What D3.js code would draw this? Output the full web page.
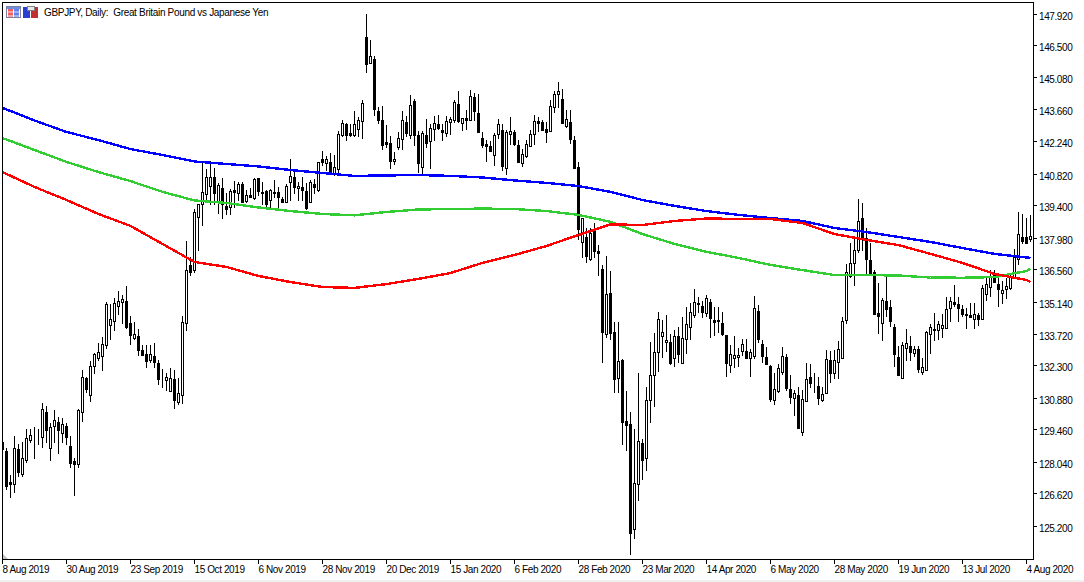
<!DOCTYPE html>
<html><head><meta charset="utf-8">
<script src="https://cdn.jsdelivr.net/npm/d3@7"></script>
<style>html,body{margin:0;padding:0;background:#fff;overflow:hidden}svg{display:block}
text{font-family:"Liberation Sans",Arial,sans-serif;font-size:10px;fill:#000}</style></head><body>
<svg id="c" width="1084" height="582"></svg>
<script>
const title = "GBPJPY, Daily:  Great Britain Pound vs Japanese Yen";
const priceTicks = [147.92,146.5,145.08,143.66,142.24,140.82,139.4,137.98,136.56,135.14,133.72,132.3,130.88,129.46,128.04,126.62,125.2];
const dateLabels = ["8 Aug 2019","30 Aug 2019","23 Sep 2019","15 Oct 2019","6 Nov 2019","28 Nov 2019","20 Dec 2019","15 Jan 2020","6 Feb 2020","28 Feb 2020","23 Mar 2020","14 Apr 2020","6 May 2020","28 May 2020","19 Jun 2020","13 Jul 2020","4 Aug 2020"];
const opens = [128.97,128.58,127.19,127.10,128.66,127.55,128.17,129.06,129.28,129.19,129.19,130.30,128.71,129.68,129.86,129.37,129.68,128.79,128.13,128.00,
130.30,131.81,131.06,132.34,132.70,132.79,133.28,134.17,134.35,135.00,135.18,135.23,134.26,133.59,133.68,133.05,132.88,132.61,132.79,132.48,
131.81,131.72,131.24,131.77,130.75,131.06,134.26,136.83,136.60,138.96,139.53,139.97,140.33,140.73,139.62,140.24,139.44,139.40,140.15,140.02,
140.42,139.67,139.93,139.80,140.69,140.06,140.11,139.71,140.06,140.06,139.75,139.62,140.51,140.73,140.24,140.29,140.11,139.62,140.42,140.15,
141.53,141.36,141.40,140.91,141.09,142.60,143.09,142.69,142.60,142.86,143.22,146.95,145.79,145.97,143.66,143.26,142.28,142.24,141.44,142.06,
142.42,143.17,142.60,144.11,142.60,141.18,142.60,142.33,142.86,143.09,142.82,142.69,143.17,143.26,143.97,143.13,143.35,143.26,144.28,143.57,
142.47,142.19,142.10,141.71,142.64,142.82,141.14,142.64,142.73,142.15,141.36,141.66,142.10,142.64,143.22,143.17,142.86,142.78,143.84,144.41,
144.19,143.00,143.17,142.37,141.18,137.85,138.07,137.09,138.38,137.45,136.65,133.76,135.59,133.85,131.82,132.61,129.91,129.77,125.11,127.10,
128.93,128.27,130.84,131.95,132.96,133.67,133.41,133.41,132.70,133.67,132.48,133.54,134.08,134.61,135.14,135.00,134.70,135.18,134.39,134.39,
134.26,133.72,132.39,132.70,132.75,133.01,133.01,132.70,132.79,134.79,133.32,132.75,132.34,130.84,131.24,132.08,132.75,131.32,130.93,131.06,
129.41,130.80,131.86,131.50,131.45,130.84,131.15,132.61,132.04,132.52,132.70,134.39,136.33,136.92,137.49,138.91,138.03,137.05,136.51,134.70,
134.26,135.23,134.97,134.08,132.75,131.82,133.14,133.23,132.92,133.10,132.08,132.17,133.76,133.94,133.94,134.03,134.03,134.92,135.18,135.09,
134.87,134.65,134.61,134.43,134.61,134.43,135.54,135.85,136.38,135.98,135.59,135.77,135.81,136.25,137.10,138.08,138.08,137.98];
const highs = [128.97,128.71,127.51,129.24,128.88,128.97,129.55,129.55,129.64,129.55,130.71,130.57,129.82,130.39,130.08,130.03,129.82,129.24,128.26,130.44,
132.17,131.86,132.57,132.92,133.37,133.63,135.18,135.09,135.36,135.68,135.50,135.90,134.56,134.30,133.99,133.28,133.28,133.28,133.37,132.61,
132.21,132.04,132.26,132.17,131.81,134.56,137.89,137.18,139.31,139.53,141.44,141.09,141.44,141.13,140.46,140.69,140.02,140.20,140.55,140.51,
140.51,140.15,140.24,140.69,140.69,140.51,140.15,140.20,140.60,140.29,139.84,140.42,141.53,141.00,140.51,140.73,140.46,140.60,140.64,141.40,
141.89,141.67,141.80,141.71,142.78,143.26,143.13,143.09,143.66,143.40,144.15,147.97,146.81,146.10,143.84,143.88,143.04,142.55,141.84,142.73,
143.66,143.44,144.37,144.19,142.78,142.78,143.30,143.09,143.44,143.48,143.09,143.44,143.40,144.15,144.55,143.35,143.70,144.59,144.46,144.42,
142.73,142.37,142.33,142.69,143.30,143.09,142.82,143.40,142.82,142.37,141.97,142.37,142.82,143.48,143.40,143.26,143.17,144.15,144.55,144.95,
144.64,143.70,143.70,142.55,141.40,138.91,138.47,138.47,138.69,137.71,136.83,137.23,136.56,134.30,134.30,132.66,131.24,130.30,129.55,132.04,
129.10,131.41,133.41,133.81,134.74,134.39,134.61,133.77,133.94,134.08,134.52,134.97,135.14,135.76,135.41,135.23,135.50,135.32,134.97,134.97,
134.74,133.72,133.28,133.68,133.15,133.55,133.55,133.10,135.45,135.05,133.50,133.19,132.39,132.04,132.43,133.19,132.88,131.95,131.28,131.41,
131.28,132.48,132.43,132.04,131.86,131.41,133.05,133.01,133.05,133.45,134.52,136.85,137.80,138.03,139.75,139.58,138.47,137.80,136.60,136.03,
135.36,136.34,135.27,134.21,133.23,133.41,133.99,133.68,133.23,133.23,132.70,133.90,134.21,134.70,134.34,134.65,135.41,135.41,135.94,135.41,
135.05,134.92,135.14,135.14,134.70,135.94,136.34,136.60,136.60,136.34,136.12,136.25,136.38,137.54,139.18,139.09,138.91,139.05];
const lows = [128.66,126.88,126.49,126.75,127.46,127.42,128.08,128.93,128.22,128.84,128.75,128.93,128.13,128.97,128.44,128.93,128.84,127.82,126.62,127.82,
129.86,131.19,130.75,131.99,132.61,132.13,133.14,133.50,133.94,134.61,134.21,134.03,133.32,133.50,132.79,132.79,132.26,132.48,132.26,131.54,
131.41,131.24,131.24,130.44,130.62,130.66,133.90,136.38,136.51,137.45,138.56,139.62,139.49,139.49,139.09,138.87,139.05,139.05,139.40,139.71,
139.58,139.58,139.80,139.75,139.93,139.49,139.31,139.31,139.80,139.40,139.58,139.58,139.67,140.02,139.67,139.71,139.27,139.58,140.02,140.11,
141.22,141.04,140.91,140.82,140.82,142.55,142.33,142.51,142.55,142.51,142.42,145.39,145.75,143.44,143.09,141.97,142.06,141.13,141.27,141.93,
141.97,142.51,142.42,142.15,140.95,140.82,142.02,141.09,142.37,142.86,142.33,142.51,142.60,143.17,143.13,142.78,142.86,143.22,143.22,142.69,
142.02,141.44,141.89,141.22,142.42,141.04,140.86,142.19,142.15,141.36,141.18,141.58,142.10,142.19,142.73,142.78,142.28,142.78,143.61,143.80,
143.13,142.95,142.24,141.14,137.94,137.18,136.92,137.01,137.18,136.38,132.52,133.63,133.54,131.19,131.19,128.84,128.58,124.00,124.71,126.36,
127.33,127.69,129.82,130.53,132.08,132.70,133.01,132.43,132.34,132.48,132.48,132.92,133.54,134.48,134.70,134.48,134.56,133.63,133.72,133.81,
133.72,131.86,132.04,132.26,132.34,132.83,132.70,131.90,132.66,133.37,132.52,132.39,130.79,130.62,131.19,131.95,131.24,130.66,130.13,129.60,
129.28,130.79,131.37,131.15,130.62,130.79,131.15,131.63,131.77,131.77,132.70,134.21,136.29,135.90,137.40,137.49,136.42,136.47,134.65,133.77,
133.46,134.52,134.08,132.34,131.95,131.77,132.57,132.61,132.75,132.04,131.95,132.13,132.92,133.46,133.50,133.59,134.03,134.34,134.97,134.30,
134.56,133.99,134.48,133.99,134.12,134.39,135.23,135.41,136.07,134.97,135.14,135.36,135.76,136.25,136.83,137.80,137.80,137.85];
const closes = [128.66,127.01,127.10,128.71,127.64,128.26,129.15,129.28,129.28,129.19,130.44,129.50,129.64,129.95,129.50,129.77,129.19,128.04,128.00,130.39,
131.86,131.32,132.34,132.88,132.96,133.32,135.09,134.43,135.14,135.23,135.32,134.08,133.72,133.76,133.05,132.83,132.57,132.88,132.52,131.77,
131.81,131.86,131.81,130.84,131.15,134.30,136.60,136.51,139.18,139.53,140.06,140.73,140.73,140.02,140.38,139.53,139.31,140.11,140.06,140.42,
139.62,139.93,139.84,140.65,140.11,140.02,139.53,140.15,140.02,139.84,139.62,140.33,140.78,140.29,140.33,140.15,139.35,140.51,140.29,141.40,
141.40,141.53,140.95,141.18,142.64,143.13,142.60,142.60,143.09,143.26,144.02,145.75,146.10,143.75,143.26,142.15,142.19,141.44,141.53,142.47,
143.26,142.69,143.93,142.60,141.36,142.69,142.24,142.91,143.13,142.91,142.73,143.22,143.31,144.06,143.22,143.35,143.26,144.32,143.66,142.73,
142.15,142.10,141.89,142.60,143.09,141.22,142.73,142.78,142.19,141.40,141.75,142.19,142.64,143.22,143.13,142.82,142.73,143.88,144.41,144.55,
143.13,143.31,142.42,141.14,138.42,138.91,137.22,138.25,137.45,137.36,133.85,135.54,133.81,131.77,132.57,129.86,129.73,124.94,127.15,129.02,
128.17,130.84,131.95,132.96,134.43,133.85,133.50,132.48,133.67,132.87,133.59,134.21,134.74,135.18,135.09,134.74,135.36,134.48,134.30,134.35,
133.76,132.48,132.88,132.83,132.83,133.32,132.70,132.96,134.92,133.54,132.79,132.43,130.88,131.32,132.26,132.79,131.37,130.97,131.15,129.60,
130.88,131.77,131.59,131.50,130.93,131.10,132.66,132.04,132.61,133.10,134.35,136.51,136.92,137.49,138.78,138.07,137.09,136.47,134.65,134.56,
135.27,134.87,134.35,132.88,131.95,133.28,133.37,132.96,133.10,132.21,132.30,133.85,134.08,133.99,134.21,134.17,134.87,135.23,135.09,134.92,
134.65,134.61,134.52,134.65,134.43,135.81,135.98,136.33,136.07,135.76,135.72,135.90,136.33,137.18,138.18,137.87,137.82,138.13];
const maBars = [0,8,16,24,32,40,48,56,64,72,80,88,96,104,112,120,128,136,144,152,160,168,176,184,192,200,208,216,224,232,240,248,256,257];
const blueMA = [143.80,143.24,142.73,142.37,141.97,141.71,141.42,141.31,141.20,141.04,140.91,140.78,140.80,140.82,140.78,140.71,140.58,140.47,140.33,140.07,139.71,139.45,139.22,139.05,138.91,138.78,138.47,138.29,138.07,137.85,137.58,137.32,137.16,137.14];
const greenMA = [142.46,141.93,141.40,140.95,140.55,140.07,139.69,139.58,139.38,139.22,139.09,139.03,139.18,139.29,139.31,139.33,139.31,139.22,139.05,138.74,138.20,137.76,137.41,137.14,136.83,136.60,136.38,136.38,136.36,136.27,136.26,136.29,136.56,136.66];
const redMA = [140.95,140.29,139.71,139.09,138.56,137.76,136.96,136.74,136.34,136.07,135.85,135.81,135.98,136.21,136.47,136.92,137.27,137.67,138.16,138.63,138.60,138.78,138.89,138.87,138.87,138.69,138.20,137.94,137.71,137.32,136.92,136.43,136.16,136.07];

const L=2, T=2, R=1033, B=559;
const svg = d3.select("#c");
const x = d3.scaleLinear().domain([0,257]).range([2.5,1030.5]);
const y = d3.scaleLinear().domain([125.2,147.92]).range([527,15]);
const snap = v => Math.round(v)+0.5;

svg.append("defs").append("clipPath").attr("id","plot").append("rect").attr("x",L).attr("y",T).attr("width",R-L).attr("height",B-T);
const plot = svg.append("g").attr("clip-path","url(#plot)").attr("shape-rendering","crispEdges");
const idx = d3.range(opens.length);
plot.append("g").selectAll("line").data(idx).join("line")
  .attr("x1",i=>x(i)).attr("x2",i=>x(i)).attr("y1",i=>y(highs[i])).attr("y2",i=>y(lows[i])+0.5)
  .attr("stroke","#000").attr("stroke-width",1);
plot.append("g").selectAll("rect").data(idx).join("rect")
  .attr("x",i=>x(i)-1).attr("width",2)
  .attr("y",i=>snap(y(Math.max(opens[i],closes[i]))))
  .attr("height",i=>Math.max(0,snap(y(Math.min(opens[i],closes[i])))-snap(y(Math.max(opens[i],closes[i])))))
  .attr("fill",i=>closes[i]>opens[i]?"#fff":"#000").attr("stroke","#000").attr("stroke-width",1);
const ln = d3.line().x((d,i)=>x(maBars[i])).y(d=>y(d));
[[blueMA,"#0000ff"],[greenMA,"#32cd32"],[redMA,"#ff0000"]].forEach(([s,c])=>{
  plot.append("path").attr("d",ln(s)).attr("fill","none").attr("stroke",c).attr("stroke-width",2.4);
});
// shift marker
svg.append("path").attr("d",`M${L+1} ${B-5}L${L+6} ${B}L${L+1} ${B}Z`).attr("fill","#c0c0c0");
// frame
const frame = svg.append("g").attr("shape-rendering","crispEdges").attr("stroke","#000");
frame.append("line").attr("x1",L+.5).attr("x2",L+.5).attr("y1",T).attr("y2",B+1);
frame.append("line").attr("x1",L).attr("x2",R+1).attr("y1",T+.5).attr("y2",T+.5);
frame.append("line").attr("x1",R+.5).attr("x2",R+.5).attr("y1",T).attr("y2",B+1);
frame.append("line").attr("x1",L).attr("x2",R+1).attr("y1",B+.5).attr("y2",B+.5);
// price axis
const pa = svg.append("g");
priceTicks.forEach(p=>{
  const py=Math.floor(y(p))-.5;
  pa.append("line").attr("x1",R+1).attr("x2",R+4).attr("y1",py).attr("y2",py).attr("stroke","#000").attr("shape-rendering","crispEdges");
  pa.append("text").attr("x",R+6).attr("y",py+5).attr("letter-spacing","-0.4").attr("font-size","10").text(p.toFixed(3));
});
// time axis
const ta = svg.append("g");
dateLabels.forEach((d,k)=>{
  const tx=x(k*16);
  ta.append("line").attr("x1",tx).attr("x2",tx).attr("y1",B+1).attr("y2",B+5).attr("stroke","#000").attr("shape-rendering","crispEdges");
  ta.append("text").attr("x",tx).attr("y",573).attr("letter-spacing","-0.4").text(d);
});
// header
const hd = svg.append("g").attr("shape-rendering","crispEdges");
hd.append("rect").attr("x",6.5).attr("y",6.5).attr("width",14).attr("height",11).attr("fill","#fff").attr("stroke","#7f7f9f");
hd.append("rect").attr("x",7).attr("y",7).attr("width",13).attr("height",2).attr("fill","#6f8fdf");
[9,11,13,15].forEach((yy,k)=>{
  hd.append("rect").attr("x",8).attr("y",yy).attr("width",5).attr("height",1.5).attr("fill",k%2?"#f4a0a0":"#f06060");
  hd.append("rect").attr("x",14).attr("y",yy).attr("width",5).attr("height",1.5).attr("fill",k%2?"#a0b0f0":"#6080f0");
});
hd.append("rect").attr("x",23).attr("y",7).attr("width",7).attr("height",11).attr("fill","#2a3fd0");
hd.append("rect").attr("x",31).attr("y",7).attr("width",7).attr("height",11).attr("fill","#c03030");
hd.append("rect").attr("x",27).attr("y",6).attr("width",7).attr("height",4).attr("fill","#e8e8e8").attr("stroke","#808080");
svg.append("text").attr("x",44).attr("y",16).style("white-space","pre").attr("letter-spacing","-0.32").text(title);
// bottom band
svg.append("rect").attr("x",0).attr("y",580).attr("width",1084).attr("height",2).attr("fill","#f0f0f0");
</script></body></html>
